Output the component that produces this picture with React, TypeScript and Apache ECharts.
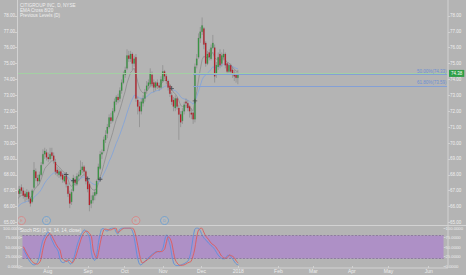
import React, { useEffect, useRef } from 'react';
import * as echarts from 'echarts';

// ---- price data (daily OHLC, Citigroup, Jul 2017 - Jan 2018) ----
const opens = [
  67.0, 66.8, 67.2, 67.0, 66.8, 66.6, 66.9, 66.5, 66.3, 67.2,
  68.2, 67.8, 67.6, 68.0, 68.7, 69.3, 69.4, 69.1, 69.0, 69.4,
  69.2, 68.8, 68.3, 68.0, 68.2, 68.0, 67.6, 67.9, 67.3, 66.8,
  66.3, 67.0, 67.7, 67.4, 67.9, 68.0, 68.3, 68.5, 68.2, 67.6,
  67.4, 66.2, 66.4, 66.7, 66.8, 67.7, 68.4, 69.3, 69.5, 70.2,
  70.6, 71.0, 71.6, 71.4, 72.0, 72.6, 72.9, 72.8, 73.3, 73.8,
  74.3, 74.7, 75.5, 75.3, 75.6, 75.0, 75.4, 72.7, 72.3, 72.0,
  72.5, 72.8, 73.3, 73.6, 73.7, 74.3, 73.8, 73.5, 73.8, 73.6,
  73.5, 73.9, 74.5, 74.2, 73.9, 73.6, 73.0, 72.7, 72.2, 72.8,
  72.2, 71.8, 71.4, 72.0, 72.6, 72.5, 72.3, 71.9, 71.9, 71.5,
  74.9, 75.4, 76.6, 77.0, 77.2, 76.3, 75.0, 75.7, 75.3, 76.0,
  76.0, 74.3, 74.8, 75.6, 75.0, 75.4, 75.6, 75.0, 74.5, 74.9,
  74.6, 74.4, 74.3, 74.1,
];
const highs = [
  67.3, 67.3, 67.4, 67.2, 67.0, 67.1, 67.0, 66.6, 67.1, 68.8,
  68.4, 68.0, 68.2, 68.8, 69.6, 69.7, 69.6, 69.4, 69.7, 69.7,
  69.4, 69.0, 68.5, 68.4, 68.3, 68.1, 68.1, 68.0, 67.5, 67.0,
  67.1, 68.0, 67.9, 68.1, 68.2, 68.9, 68.8, 68.6, 68.3, 67.8,
  67.5, 66.7, 66.9, 67.1, 67.7, 68.7, 69.5, 69.6, 70.4, 70.8,
  71.2, 71.8, 71.9, 72.2, 72.8, 73.0, 73.1, 73.5, 74.0, 74.5,
  74.8, 75.9, 75.8, 75.8, 75.7, 75.5, 75.6, 72.9, 72.6, 72.8,
  73.0, 73.4, 73.9, 74.0, 74.7, 74.5, 74.0, 73.9, 74.0, 73.8,
  74.2, 74.9, 74.6, 74.4, 74.0, 73.7, 73.2, 72.9, 73.0, 72.9,
  72.4, 72.0, 72.2, 72.6, 72.8, 72.7, 72.4, 72.2, 72.0, 75.0,
  75.6, 76.9, 77.3, 77.9, 77.3, 76.4, 75.8, 75.9, 76.2, 76.8,
  76.2, 75.1, 75.7, 75.9, 75.7, 75.9, 75.7, 75.1, 75.0, 75.0,
  74.8, 74.6, 74.5, 74.6,
];
const lows = [
  66.2, 66.6, 66.8, 66.5, 66.3, 66.4, 66.3, 66.0, 66.2, 67.1,
  67.6, 67.3, 67.4, 67.9, 68.6, 69.0, 68.9, 68.8, 68.9, 69.0,
  68.7, 68.0, 67.9, 67.8, 67.7, 67.5, 67.5, 67.2, 66.6, 65.9,
  66.1, 66.9, 67.3, 67.3, 67.6, 67.9, 68.1, 68.0, 67.4, 66.9,
  65.7, 65.9, 66.2, 66.4, 66.7, 67.6, 68.3, 69.0, 69.4, 70.0,
  70.3, 70.9, 71.2, 71.3, 71.9, 72.4, 72.5, 72.6, 73.1, 73.7,
  74.1, 74.6, 75.1, 75.1, 74.6, 74.8, 72.6, 71.8, 71.0, 71.8,
  72.3, 72.6, 73.1, 73.4, 73.5, 73.5, 73.2, 73.3, 73.4, 73.3,
  73.4, 73.8, 74.0, 73.7, 73.3, 72.9, 72.4, 72.0, 72.0, 72.1,
  70.2, 71.0, 71.2, 71.8, 72.2, 72.0, 71.6, 71.5, 71.2, 71.3,
  74.7, 75.3, 76.3, 76.8, 75.9, 74.8, 74.9, 75.2, 75.2, 75.9,
  73.8, 74.1, 74.6, 74.7, 74.8, 75.2, 74.7, 74.3, 74.3, 74.3,
  74.1, 73.9, 73.8, 73.7,
];
const closes = [
  66.8, 67.1, 67.0, 66.7, 66.6, 66.9, 66.5, 66.2, 67.0, 68.3,
  67.8, 67.6, 68.0, 68.6, 69.3, 69.5, 69.1, 69.0, 69.3, 69.2,
  68.9, 68.2, 68.1, 68.2, 67.9, 67.7, 67.9, 67.4, 66.8, 66.2,
  66.9, 67.8, 67.5, 67.9, 68.0, 68.3, 68.5, 68.2, 67.6, 67.1,
  66.1, 66.4, 66.7, 66.9, 67.6, 68.5, 69.3, 69.4, 70.2, 70.5,
  71.0, 71.6, 71.4, 72.0, 72.6, 72.9, 72.7, 73.3, 73.8, 74.3,
  74.6, 75.5, 75.3, 75.6, 75.0, 75.3, 72.8, 72.3, 72.0, 72.6,
  72.8, 73.2, 73.6, 73.8, 74.4, 73.7, 73.5, 73.8, 73.6, 73.5,
  74.0, 74.5, 74.2, 73.9, 73.5, 73.1, 72.6, 72.3, 72.8, 72.3,
  71.8, 71.3, 72.0, 72.4, 72.5, 72.2, 72.0, 71.8, 71.5, 74.8,
  75.3, 76.6, 77.0, 77.4, 76.2, 75.0, 75.6, 75.4, 76.0, 76.3,
  74.2, 74.9, 75.4, 74.9, 75.5, 75.6, 74.9, 74.5, 74.9, 74.5,
  74.3, 74.2, 74.1, 74.38,
];

// ---- EMA Cross 8/20 ----
const ema8 = [
  66.49, 66.63, 66.71, 66.71, 66.69, 66.74, 66.69, 66.58, 66.67, 67.03,
  67.20, 67.29, 67.45, 67.71, 68.06, 68.38, 68.54, 68.64, 68.79, 68.88,
  68.88, 68.73, 68.59, 68.50, 68.37, 68.22, 68.15, 67.98, 67.72, 67.38,
  67.27, 67.39, 67.41, 67.52, 67.63, 67.78, 67.94, 68.00, 67.91, 67.73,
  67.37, 67.15, 67.05, 67.02, 67.15, 67.45, 67.86, 68.20, 68.64, 69.05,
  69.48, 69.95, 70.27, 70.65, 71.08, 71.48, 71.75, 72.09, 72.47, 72.88,
  73.26, 73.76, 74.10, 74.43, 74.56, 74.72, 74.30, 73.85, 73.44, 73.25,
  73.15, 73.16, 73.26, 73.38, 73.61, 73.63, 73.60, 73.64, 73.63, 73.60,
  73.69, 73.87, 73.94, 73.93, 73.84, 73.67, 73.43, 73.18, 73.10, 72.92,
  72.67, 72.37, 72.29, 72.31, 72.35, 72.32, 72.25, 72.15, 72.01, 72.63,
  73.22, 73.97, 74.64, 75.25, 75.46, 75.36, 75.41, 75.41, 75.54, 75.71,
  75.37, 75.27, 75.30, 75.21, 75.27, 75.34, 75.24, 75.08, 75.04, 74.92,
  74.78, 74.65, 74.53, 74.50,
];
const ema20 = [
  65.99, 66.10, 66.19, 66.24, 66.27, 66.33, 66.35, 66.34, 66.40, 66.58,
  66.70, 66.79, 66.90, 67.06, 67.27, 67.48, 67.64, 67.77, 67.91, 68.03,
  68.11, 68.12, 68.12, 68.13, 68.11, 68.07, 68.05, 67.99, 67.88, 67.72,
  67.64, 67.66, 67.64, 67.67, 67.70, 67.76, 67.83, 67.87, 67.84, 67.77,
  67.61, 67.50, 67.42, 67.37, 67.39, 67.50, 67.67, 67.83, 68.06, 68.29,
  68.55, 68.84, 69.08, 69.36, 69.67, 69.98, 70.24, 70.53, 70.84, 71.17,
  71.50, 71.88, 72.21, 72.53, 72.76, 73.00, 72.98, 72.92, 72.83, 72.81,
  72.81, 72.85, 72.92, 73.00, 73.13, 73.18, 73.21, 73.27, 73.30, 73.32,
  73.38, 73.49, 73.56, 73.59, 73.58, 73.54, 73.45, 73.34, 73.29, 73.20,
  73.07, 72.90, 72.81, 72.77, 72.74, 72.69, 72.62, 72.54, 72.44, 72.66,
  72.91, 73.26, 73.62, 73.98, 74.19, 74.27, 74.40, 74.50, 74.64, 74.80,
  74.74, 74.76, 74.82, 74.83, 74.89, 74.96, 74.95, 74.91, 74.91, 74.87,
  74.82, 74.76, 74.70, 74.67,
];
const emaCrosses = [
  [27, 68.02], [31, 67.62], [39, 67.75], [46, 67.72], [86, 73.44], [99, 72.65],
];

// ---- Stoch RSI (3, 3, 14, 14, close) ----
const stochK = [
  45, 35, 26, 17, 10, 5, 3, 4, 9, 22,
  45, 65, 75, 82, 90, 84, 72, 62, 52, 46,
  38, 18, 10, 9, 12, 17, 10, 5, 10, 22,
  40, 58, 70, 82, 90, 95, 90, 84, 72, 35,
  18, 15, 30, 62, 85, 98, 98, 94, 92, 96,
  99, 100, 100, 90, 84, 95, 99, 100, 100, 100,
  100, 100, 96, 84, 60, 30, 10, 3, 5, 10,
  14, 19, 24, 28, 32, 35, 38, 38, 37, 40,
  48, 70, 82, 70, 55, 28, 8, 2, 1, 1,
  2, 4, 6, 9, 12, 20, 40, 70, 95, 100,
  100, 95, 85, 76, 70, 66, 60, 56, 52, 47,
  40, 32, 26, 22, 19, 19, 23, 28, 28, 23,
  17, 10, 5, 3,
];
const stochD = [
  51, 42, 33, 25, 18, 12, 8, 6, 5, 8,
  16, 40, 60, 73, 80, 86, 82, 73, 64, 55,
  48, 42, 22, 16, 13, 12, 16, 12, 8, 14,
  25, 40, 55, 70, 82, 89, 92, 90, 85, 77,
  42, 28, 20, 35, 60, 80, 95, 97, 96, 95,
  95, 97, 99, 100, 88, 90, 95, 98, 100, 100,
  100, 100, 100, 98, 86, 65, 42, 20, 8, 10,
  13, 16, 21, 25, 29, 33, 36, 38, 38, 38,
  40, 46, 65, 77, 72, 60, 35, 16, 8, 3,
  2, 2, 3, 5, 8, 10, 12, 25, 42, 70,
  92, 98, 100, 92, 82, 75, 70, 63, 58, 55,
  51, 44, 38, 29, 24, 21, 20, 24, 29, 27,
  25, 20, 12, 8,
];
const stochBand = [20, 80];
const stochTicks = [0, 25, 50, 75, 100];

// ---- levels, events, labels ----
const lastPrice = 74.38;
const fibLevels = [
  { label: '50.00%(74.33)', value: 74.33 },
  { label: '61.80%(73.59)', value: 73.59 },
];
const fibStartIndex = 98;
const events = [
  { index: 2, kind: 'E' },
  { index: 16, kind: 'D' },
  { index: 66, kind: 'E' },
  { index: 82, kind: 'D' },
];
const eventLevel = 65.12;
const monthNames = ['2018', 'Feb', 'Mar', 'Apr', 'May', 'Jun', 'Jul', 'Aug', 'Sep', 'Oct', 'Nov', 'Dec'];
const titleLines = ['CITIGROUP INC, D, NYSE', 'EMA Cross 8/20', 'Previous Levels (D)'];
const stochTitle = 'Stoch RSI (3, 3, 14, 14, close)';

// trading-day (weekday) categories: 12 Jul 2017 .. mid Jun 2018
const TOTAL_DAYS = 241;
const categories: string[] = [];
{
  let t = Date.UTC(2017, 6, 12);
  while (categories.length < TOTAL_DAYS) {
    const d = new Date(t);
    const wd = d.getUTCDay();
    if (wd !== 0 && wd !== 6) categories.push(d.toISOString().slice(0, 10));
    t += 86400000;
  }
}
const monthStarts = new Set<number>();
for (let i = 1; i < categories.length; i++) {
  if (categories[i].slice(5, 7) !== categories[i - 1].slice(5, 7)) monthStarts.add(i);
}

const BG = '#b4b4b4';
const TXT = '#efefef';
const FRAME = '#d2d2d2';
const UP = '#3a9b45';
const DOWN = '#c0202a';
const WICK = '#8a8a8a';
const FIB = '#84a0d6';
const FONT = 'Liberation Sans';

export default function App() {
  const ref = useRef<HTMLDivElement>(null);
  useEffect(() => {
    document.body.style.margin = '0';
    const chart = echarts.init(ref.current!, undefined, { renderer: 'svg' });
    const candleData = closes.map((c, i) => [i, opens[i], c, lows[i], highs[i]]);
    const lastIdx = categories.length - 1;

    const option: any = {
      animation: false,
      backgroundColor: BG,
      textStyle: { fontFamily: FONT },
      grid: [
        { left: 17, right: 18, top: -6.31, height: 244.65 },
        { left: 17, right: 18, top: 228, height: 38 },
      ],
      xAxis: [
        { type: 'category', gridIndex: 0, data: categories, boundaryGap: true, show: false },
        {
          type: 'category', gridIndex: 1, data: categories, boundaryGap: true,
          axisLine: { show: false },
          axisTick: {
            show: true, length: 2, interval: (i: number) => monthStarts.has(i),
            lineStyle: { color: FRAME }, alignWithLabel: true,
          },
          axisLabel: {
            interval: (i: number) => monthStarts.has(i),
            formatter: (v: string) => monthNames[Number(v.slice(5, 7)) - 1],
            color: TXT, fontSize: 5, margin: 2.5, fontFamily: FONT,
          },
          splitLine: { show: false },
        },
      ],
      yAxis: [0, 1].map((k) => ({
        type: 'value', gridIndex: 0, position: k === 0 ? 'left' : 'right',
        min: 64, max: 79, interval: 1,
        axisLine: { show: false },
        axisTick: { show: true, length: 2, lineStyle: { color: FRAME } },
        axisLabel: {
          color: TXT, fontSize: 4.5, margin: 2, fontFamily: FONT,
          showMinLabel: false, showMaxLabel: false,
          formatter: (v: number) => v.toFixed(2),
        },
        splitLine: { show: false },
      })).concat([0, 1].map((k) => ({
        type: 'value', gridIndex: 1, position: k === 0 ? 'left' : 'right',
        min: stochTicks[0], max: stochTicks[stochTicks.length - 1], interval: 25,
        axisLine: { show: false },
        axisTick: { show: true, length: 2, lineStyle: { color: FRAME } },
        axisLabel: {
          color: TXT, fontSize: 4.2, margin: 2, fontFamily: FONT,
          formatter: (v: number) => v.toFixed(4),
        },
        splitLine: { show: false },
      })) as any),
      series: [
        {
          type: 'line', name: 'EMA8', xAxisIndex: 0, yAxisIndex: 0, data: ema8,
          showSymbol: false, symbol: 'none', lineStyle: { color: '#8d8d8d', width: 0.8 }, z: 2,
          markLine: {
            silent: true, symbol: ['none', 'none'],
            data: [
              {
                yAxis: lastPrice,
                lineStyle: { color: '#a2d2a2', width: 0.9, type: 'solid' },
                label: {
                  show: true, position: 'end', formatter: lastPrice.toFixed(2),
                  backgroundColor: '#2f9e47', color: '#ffffff', padding: [1, 2],
                  fontSize: 4.5, distance: 1, fontFamily: FONT,
                },
              },
              ...fibLevels.map((f) => [
                {
                  coord: [categories[fibStartIndex], f.value],
                  lineStyle: { color: FIB, width: 1, type: 'solid' },
                  label: {
                    show: true, position: 'insideEndTop', formatter: f.label,
                    color: '#6d8fd2', fontSize: 4.5, distance: 0.5, fontFamily: FONT,
                  },
                },
                { coord: [categories[lastIdx], f.value] },
              ]),
            ],
          },
        },
        {
          type: 'line', name: 'EMA20', xAxisIndex: 0, yAxisIndex: 0, data: ema20,
          showSymbol: false, symbol: 'none', lineStyle: { color: '#7fa2dc', width: 0.8 }, z: 2,
        },
        {
          type: 'custom', name: 'Candles', xAxisIndex: 0, yAxisIndex: 0, z: 3,
          data: candleData,
          encode: { x: 0, y: [1, 2, 3, 4] },
          renderItem: (params: any, api: any) => {
            const idx = api.value(0);
            const o = api.value(1);
            const c = api.value(2);
            const lo = api.value(3);
            const hi = api.value(4);
            const pO = api.coord([idx, o]);
            const pC = api.coord([idx, c]);
            const pL = api.coord([idx, lo]);
            const pH = api.coord([idx, hi]);
            const band = api.size([1, 0])[0];
            const w = Math.max(1, band * 0.72);
            const top = Math.min(pO[1], pC[1]);
            const h = Math.max(0.8, Math.abs(pO[1] - pC[1]));
            const col = c >= o ? UP : DOWN;
            return {
              type: 'group',
              children: [
                {
                  type: 'line',
                  shape: { x1: pH[0], y1: pH[1], x2: pL[0], y2: pL[1] },
                  style: { stroke: WICK, lineWidth: 0.7 },
                },
                {
                  type: 'rect',
                  shape: { x: pO[0] - w / 2, y: top, width: w, height: h },
                  style: { fill: col, stroke: 'rgba(60,60,60,0.35)', lineWidth: 0.3 },
                },
              ],
            };
          },
        },
        {
          type: 'scatter', name: 'Crosses', xAxisIndex: 0, yAxisIndex: 0, z: 4,
          data: emaCrosses,
          symbol: 'path://M4,0H6V4H10V6H6V10H4V6H0V4H4Z', symbolSize: 4.5,
          itemStyle: { color: '#3a3a3a' },
        },
        {
          type: 'scatter', name: 'Events', xAxisIndex: 0, yAxisIndex: 0, z: 4,
          symbol: 'circle', symbolSize: 8,
          data: events.map((e) => {
            const col = e.kind === 'E' ? '#e07a7a' : '#5a9ad8';
            return {
              value: [e.index, eventLevel],
              itemStyle: { color: 'rgba(200,200,200,0.25)', borderColor: col, borderWidth: 0.9 },
              label: { show: true, position: 'inside', formatter: e.kind, color: col, fontSize: 4, fontFamily: FONT },
            };
          }),
        },
        {
          type: 'line', name: 'K', xAxisIndex: 1, yAxisIndex: 2, data: stochK,
          showSymbol: false, symbol: 'none', smooth: 0.3,
          lineStyle: { color: '#5f8fdc', width: 0.9 }, z: 3,
          markArea: {
            silent: true,
            itemStyle: { color: '#ae90c6' },
            data: [[{ yAxis: stochBand[0] }, { yAxis: stochBand[1] }]],
          },
          markLine: {
            silent: true, symbol: ['none', 'none'], label: { show: false },
            lineStyle: { color: '#7e6b90', type: [2, 1.5], width: 0.7 },
            data: stochBand.map((v) => ({ yAxis: v })),
          },
        },
        {
          type: 'line', name: 'D', xAxisIndex: 1, yAxisIndex: 2, data: stochD,
          showSymbol: false, symbol: 'none', smooth: 0.3,
          lineStyle: { color: '#df5a5a', width: 0.9 }, z: 4,
        },
      ],
      graphic: [
        {
          type: 'rect', silent: true, z: 100,
          shape: { x: 17.5, y: -1, width: 430.5, height: 269 },
          style: { fill: 'none', stroke: FRAME, lineWidth: 1 },
        },
        {
          type: 'line', silent: true, z: 100,
          shape: { x1: 0, y1: 225.5, x2: 466, y2: 225.5 },
          style: { stroke: FRAME, lineWidth: 1 },
        },
        ...titleLines.map((t, i) => ({
          type: 'text', silent: true, z: 101, x: 20, y: 5 + i * 5.4,
          style: { text: t, fill: TXT, fontSize: 4.6, fontFamily: FONT, verticalAlign: 'middle' },
        })),
        {
          type: 'text', silent: true, z: 101, x: 20, y: 230.8,
          style: { text: stochTitle, fill: TXT, fontSize: 4.6, fontFamily: FONT, verticalAlign: 'middle' },
        },
      ],
    };
    chart.setOption(option);
    return () => chart.dispose();
  }, []);
  return <div ref={ref} style={{ width: 466, height: 275 }} />;
}
